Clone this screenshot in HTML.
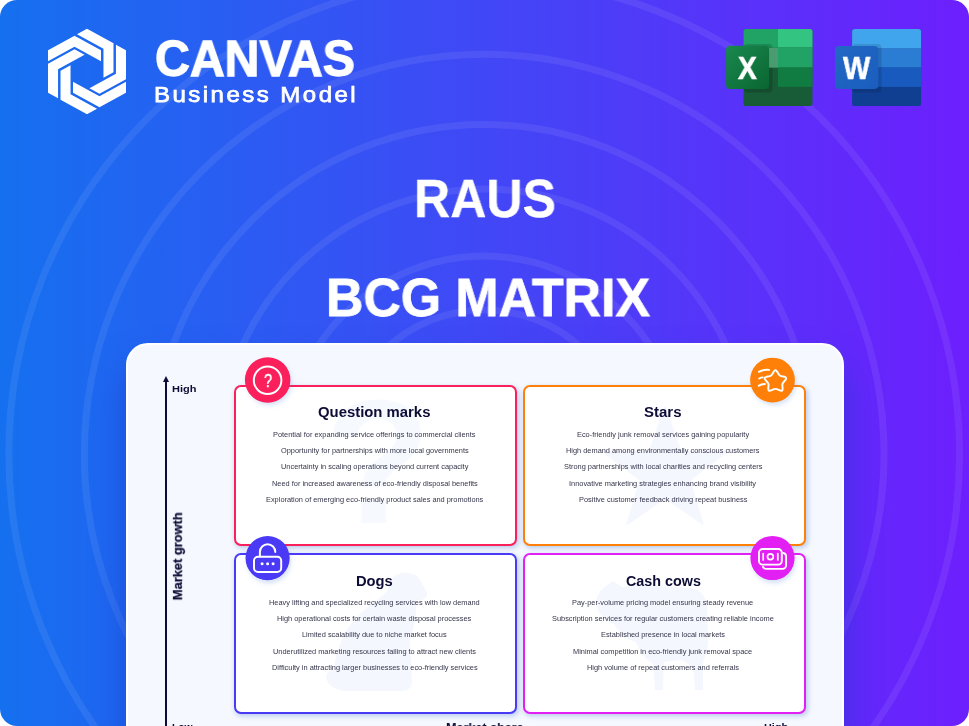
<!DOCTYPE html>
<html lang="en">
<head>
<meta charset="utf-8">
<title>RAUS BCG Matrix</title>
<style>
html,body{margin:0;padding:0;background:#fff;}
body{width:969px;height:726px;overflow:hidden;position:relative;font-family:"Liberation Sans", sans-serif;}
#stage{position:absolute;left:0;top:0;width:969px;height:726px;border-radius:17px;overflow:hidden;
  background:linear-gradient(90deg,#1570ef 0%,#6d1ffd 100%);}
#deco,#icons{position:absolute;left:0;top:0;width:969px;height:726px;}
#card{position:absolute;left:126px;top:342.8px;width:717.8px;height:420px;box-sizing:border-box;border:2.3px solid #fff;border-radius:22px;background:#f5f8fe;
  box-shadow:0 24px 34px rgba(22,58,195,0.50);}
.box{position:absolute;box-sizing:border-box;border:2px solid;border-radius:7px;background:#fff;
  box-shadow:1.5px 2px 5px rgba(80,125,205,0.36);}
.dot{position:absolute;border-radius:50%;box-shadow:1.5px 3px 5px rgba(80,130,215,0.26);}
.t{position:absolute;margin:0;padding:0;white-space:nowrap;line-height:1;font-family:"Liberation Sans", sans-serif;will-change:transform;}
.wm{pointer-events:none;}
#axis{position:absolute;left:164.9px;top:380px;width:2.1px;height:360px;background:#0c0c36;}
#arrow{position:absolute;left:162.8px;top:375.7px;width:0;height:0;border-left:3.2px solid transparent;border-right:3.2px solid transparent;border-bottom:6.2px solid #0c0c36;}
</style>
</head>
<body>
<div id="stage">
<svg id="deco" width="969" height="726" viewBox="0 0 969 726">
<defs>
<linearGradient id="gx" x1="0" y1="0" x2="1" y2="1"><stop offset="0" stop-color="#18884f"/><stop offset="1" stop-color="#0b6631"/></linearGradient>
<linearGradient id="gw" x1="0" y1="0" x2="1" y2="1"><stop offset="0" stop-color="#2368c4"/><stop offset="1" stop-color="#1a5dbe"/></linearGradient>
</defs>
<g fill="none" stroke="#fff" stroke-opacity="0.075" stroke-width="7"><circle cx="484.2" cy="454" r="144"/><circle cx="484.2" cy="454" r="198"/><circle cx="484.2" cy="454" r="265"/><circle cx="484.2" cy="454" r="329.6"/><circle cx="484.2" cy="454" r="399.8"/><circle cx="484.2" cy="454" r="475.4"/></g>
<g fill="#fff"><polygon points="48.02,50.15 74.53,35.63 101.03,50.15 101.03,61.15 74.53,46.63 48.02,61.15"/><polygon points="87.00,28.80 113.50,43.32 113.50,72.35 103.46,77.85 103.46,48.82 76.96,34.30"/><polygon points="125.98,50.15 125.98,79.19 99.47,93.70 89.43,88.20 115.94,73.69 115.94,44.65"/><polygon points="125.98,92.85 99.47,107.37 72.97,92.85 72.97,81.85 99.47,96.37 125.98,81.85"/><polygon points="87.00,114.20 60.50,99.68 60.50,70.65 70.54,65.15 70.54,94.18 97.04,108.70"/><polygon points="48.02,92.85 48.02,63.81 74.53,49.30 84.57,54.80 58.06,69.31 58.06,98.35"/></g>
<g shape-rendering="geometricPrecision">
<clipPath id="cx"><rect x="743.5" y="29" width="69" height="77" rx="2.6"/></clipPath>
<g clip-path="url(#cx)">
<rect x="743" y="28" width="70" height="79" fill="#185c37"/>
<rect x="743" y="28" width="35" height="20" fill="#21a366"/>
<rect x="778" y="28" width="35" height="19.6" fill="#33c481"/>
<rect x="743" y="47.6" width="35" height="20" fill="#107c41"/>
<rect x="778" y="47.6" width="35" height="20" fill="#21a366"/>
<rect x="778" y="67.6" width="35" height="19.3" fill="#107c41"/>
<rect x="743.5" y="44" width="29" height="48.5" rx="4" fill="#000" fill-opacity="0.16"/>
<rect x="769" y="47.8" width="9" height="19.8" fill="#4a9a72"/>
</g>
<rect x="726.1" y="45.7" width="43" height="43.2" rx="4" fill="url(#gx)"/>
</g><g>
<clipPath id="cw"><rect x="852.1" y="29" width="69" height="77" rx="2.6"/></clipPath>
<g clip-path="url(#cw)">
<rect x="852" y="28" width="70" height="79" fill="#103f91"/>
<rect x="852" y="28" width="70" height="20.6" fill="#41a5ee"/>
<rect x="852" y="48.6" width="70" height="19" fill="#2b7cd3"/>
<rect x="852" y="67.6" width="70" height="19.3" fill="#185abd"/>
<rect x="852.1" y="44" width="29.5" height="48.5" rx="4" fill="#000" fill-opacity="0.12"/>
</g>
<rect x="835.1" y="45.9" width="43.2" height="43" rx="4" fill="url(#gw)"/>
</g>
</svg>
<div id="card"></div>
<div id="axis"></div><div id="arrow"></div>
<div class="box" id="box-q" style="left:234px;top:385px;width:283px;height:161px;border-color:#fb1f5b;"></div>
<div class="box" id="box-s" style="left:523px;top:385px;width:283px;height:161px;border-color:#ff8008;"></div>
<div class="box" id="box-d" style="left:234px;top:553px;width:283px;height:161px;border-color:#4a3af6;"></div>
<div class="box" id="box-c" style="left:523px;top:553px;width:283px;height:161px;border-color:#e320f4;"></div>
<svg id="wm" width="969" height="726" viewBox="0 0 969 726" style="position:absolute;left:0;top:0"><g fill="#f4f7fe"><path d="M664.01 407.83 Q665.00 405.00 665.99 407.83 L680.54 449.21 Q680.87 450.16 681.87 450.18 L725.72 451.22 Q728.72 451.30 726.34 453.12 L691.47 479.74 Q690.68 480.34 690.96 481.30 L703.52 523.33 Q704.38 526.20 701.91 524.50 L665.82 499.57 Q665.00 499.00 664.18 499.57 L628.09 524.50 Q625.62 526.20 626.48 523.33 L639.04 481.30 Q639.32 480.34 638.53 479.74 L603.66 453.12 Q601.28 451.30 604.28 451.22 L648.13 450.18 Q649.13 450.16 649.46 449.21 Z"/><path d="M396 575 C404 571 416 572 420 580 L427 592 C428 598 423 601 416 600 C417 614 414 628 410 640 L412 682 C412 688 408 691 400 691 L348 691 C338 691 332 688 328 682 C324 676 327 670 334 670 C336 650 344 630 358 616 C370 604 382 598 388 590 C388 583 391 578 396 575 Z"/><path d="M606 586 L613 581 L622 587 C640 586 668 586 690 588 C700 589 706 596 707 606 L708 640 C708 650 705 656 703 664 L703 690 L695 690 L693 668 C688 664 684 660 680 660 L664 662 L663 690 L655 690 L653 664 C646 660 640 652 636 642 C628 640 620 634 614 624 C606 622 598 614 596 604 C596 596 600 590 606 586 Z"/></g></svg>
<div class="t wm" style="font-size:176px;font-weight:700;color:#f6f9fe;left:323.63px;top:374.00px;transform-origin:0 0;transform:scaleX(0.9927);">?</div>
<div class="dot" style="left:245.5px;top:357.8px;width:44.3px;height:44.3px;background:#fb1f5b;"></div>
<div class="dot" style="left:750.7px;top:358.2px;width:43.6px;height:43.6px;background:#ff8008;"></div>
<div class="dot" style="left:246.1px;top:536.6px;width:43.0px;height:43.0px;background:#4a3af6;"></div>
<div class="dot" style="left:751.0px;top:536.5px;width:43.0px;height:43.0px;background:#e320f4;"></div>
<svg id="icons" width="969" height="726" viewBox="0 0 969 726"><circle cx="267.65" cy="379.95" r="22.75" fill="#fb1f5b"/><circle cx="772.5" cy="380.05" r="22.4" fill="#ff8008"/><circle cx="267.6" cy="558.1" r="22.1" fill="#4a3af6"/><circle cx="772.5" cy="558.0" r="22.1" fill="#e320f4"/><circle cx="267.6" cy="380.2" r="13.8" fill="none" stroke="#fff" stroke-linecap="round" stroke-linejoin="round" stroke-width="1.95"/><path d="M773.70 371.72 Q775.45 368.80 777.20 371.72 L778.85 374.47 Q779.62 375.76 781.09 376.09 L784.22 376.81 Q787.53 377.58 785.30 380.14 L783.19 382.56 Q782.20 383.69 782.33 385.19 L782.62 388.39 Q782.91 391.77 779.79 390.44 L776.83 389.19 Q775.45 388.60 774.07 389.19 L771.11 390.44 Q767.99 391.77 768.28 388.39 L768.57 385.19 Q768.70 383.69 767.71 382.56 L765.60 380.14 Q763.37 377.58 766.68 376.81 L769.81 376.09 Q771.28 375.76 772.05 374.47 Z" fill="none" stroke="#fff" stroke-linecap="round" stroke-linejoin="round" stroke-width="1.95"/><path d="M758.9 371.8 Q763.8 369.2 769.0 369.9 M759.3 378.5 Q761.0 377.5 762.7 377.4 M758.9 385.7 Q761.8 384.1 764.9 384.0" fill="none" stroke="#fff" stroke-linecap="round" stroke-linejoin="round" stroke-width="1.95"/><rect x="254.0" y="556.7" width="27.2" height="15.2" rx="4" fill="none" stroke="#fff" stroke-linecap="round" stroke-linejoin="round" stroke-width="1.95"/><path d="M259.9 556.4 V552.0 A7.7 7.7 0 0 1 275.3 552.0" fill="none" stroke="#fff" stroke-linecap="round" stroke-linejoin="round" stroke-width="1.95"/><circle cx="262.1" cy="563.7" r="1.5" fill="#fff"/><circle cx="267.6" cy="563.7" r="1.5" fill="#fff"/><circle cx="273.1" cy="563.7" r="1.5" fill="#fff"/><rect x="759.0" y="549.0" width="22.8" height="15.6" rx="3.6" fill="none" stroke="#fff" stroke-linecap="round" stroke-linejoin="round" stroke-width="1.9"/><path d="M783.2 553.0 A3.6 3.6 0 0 1 786.1 556.6 V565.3 A3.6 3.6 0 0 1 782.5 568.9 H766.3 A3.6 3.6 0 0 1 763.0 566.8" fill="none" stroke="#fff" stroke-linecap="round" stroke-linejoin="round" stroke-width="1.9"/><circle cx="770.4" cy="556.8" r="2.9" fill="none" stroke="#fff" stroke-linecap="round" stroke-linejoin="round" stroke-width="1.7"/><path d="M763.2 553.6 V560.0 M777.8 553.6 V560.0" fill="none" stroke="#fff" stroke-linecap="round" stroke-linejoin="round" stroke-width="1.7"/></svg>
<div class="t" style="font-size:49.7px;font-weight:700;-webkit-text-stroke:1.3px currentColor;color:#fff;left:154.87px;top:35.00px;transform-origin:0 0;transform:scaleX(0.9695);">CANVAS</div>
<div class="t" style="font-size:22.4px;font-weight:400;letter-spacing:2.3px;-webkit-text-stroke:0.75px currentColor;color:#fff;left:154.29px;top:84.00px;transform-origin:0 0;transform:scaleX(1.0730);">Business Model</div>
<h1 class="t" style="font-size:52.8px;font-weight:700;-webkit-text-stroke:0.3px currentColor;color:#fff;left:413.50px;top:173.00px;transform-origin:0 0;transform:scaleX(0.9484);">RAUS</h1>
<h1 class="t" style="font-size:53.6px;font-weight:700;-webkit-text-stroke:0.8px currentColor;color:#fff;left:325.88px;top:271.00px;transform-origin:0 0;transform:scaleX(0.9657);">BCG MATRIX</h1>
<div class="t" style="font-size:9.9px;font-weight:700;color:#0c0c36;left:172.10px;top:384.00px;transform-origin:0 0;transform:scaleX(1.1133);">High</div>
<div class="t" style="font-size:9.9px;font-weight:700;color:#0c0c36;left:171.95px;top:722.00px;transform-origin:0 0;transform:scaleX(1.0405);">Low</div>
<div class="t" style="font-size:12.9px;font-weight:700;color:#0c0c36;left:445.75px;top:722.00px;transform-origin:0 0;transform:scaleX(0.9764);">Market share</div>
<div class="t" style="font-size:9.9px;font-weight:700;color:#0c0c36;left:764.41px;top:722.00px;transform-origin:0 0;transform:scaleX(1.0988);">High</div>
<div class="t" style="font-size:12.9px;font-weight:700;-webkit-text-stroke:0.25px currentColor;color:#0c0c36;left:0;top:0;transform-origin:0 0;transform:translate(171.88px,600.15px) rotate(-90deg) scaleX(0.9962);">Market growth</div>
<h3 class="t" style="font-size:14.1px;font-weight:700;color:#0c0c36;left:318.44px;top:405.00px;transform-origin:0 0;transform:scaleX(1.0553);">Question marks</h3>
<p class="t" style="font-size:7.4px;font-weight:400;color:#34344a;left:273.32px;top:431.00px;">Potential for expanding service offerings to commercial clients</p>
<p class="t" style="font-size:7.4px;font-weight:400;color:#34344a;left:280.76px;top:447.00px;">Opportunity for partnerships with more local governments</p>
<p class="t" style="font-size:7.4px;font-weight:400;color:#34344a;left:280.76px;top:463.00px;">Uncertainty in scaling operations beyond current capacity</p>
<p class="t" style="font-size:7.4px;font-weight:400;color:#34344a;left:271.64px;top:480.00px;">Need for increased awareness of eco-friendly disposal benefits</p>
<p class="t" style="font-size:7.4px;font-weight:400;color:#34344a;left:265.89px;top:496.00px;">Exploration of emerging eco-friendly product sales and promotions</p>
<h3 class="t" style="font-size:14.1px;font-weight:700;color:#0c0c36;left:643.80px;top:405.00px;transform-origin:0 0;transform:scaleX(1.0628);">Stars</h3>
<p class="t" style="font-size:7.4px;font-weight:400;color:#34344a;left:576.62px;top:431.00px;">Eco-friendly junk removal services gaining popularity</p>
<p class="t" style="font-size:7.4px;font-weight:400;color:#34344a;left:566.06px;top:447.00px;">High demand among environmentally conscious customers</p>
<p class="t" style="font-size:7.4px;font-weight:400;color:#34344a;left:563.75px;top:463.00px;">Strong partnerships with local charities and recycling centers</p>
<p class="t" style="font-size:7.4px;font-weight:400;color:#34344a;left:569.25px;top:480.00px;">Innovative marketing strategies enhancing brand visibility</p>
<p class="t" style="font-size:7.4px;font-weight:400;color:#34344a;left:578.62px;top:496.00px;">Positive customer feedback driving repeat business</p>
<h3 class="t" style="font-size:14.1px;font-weight:700;color:#0c0c36;left:355.96px;top:574.00px;transform-origin:0 0;transform:scaleX(1.0439);">Dogs</h3>
<p class="t" style="font-size:7.4px;font-weight:400;color:#34344a;left:269.26px;top:599.00px;">Heavy lifting and specialized recycling services with low demand</p>
<p class="t" style="font-size:7.4px;font-weight:400;color:#34344a;left:277.39px;top:615.00px;">High operational costs for certain waste disposal processes</p>
<p class="t" style="font-size:7.4px;font-weight:400;color:#34344a;left:302.20px;top:631.00px;">Limited scalability due to niche market focus</p>
<p class="t" style="font-size:7.4px;font-weight:400;color:#34344a;left:273.07px;top:648.00px;">Underutilized marketing resources failing to attract new clients</p>
<p class="t" style="font-size:7.4px;font-weight:400;color:#34344a;left:271.70px;top:664.00px;">Difficulty in attracting larger businesses to eco-friendly services</p>
<h3 class="t" style="font-size:14.1px;font-weight:700;color:#0c0c36;left:625.56px;top:574.00px;transform-origin:0 0;transform:scaleX(1.0169);">Cash cows</h3>
<p class="t" style="font-size:7.4px;font-weight:400;color:#34344a;left:572.25px;top:599.00px;">Pay-per-volume pricing model ensuring steady revenue</p>
<p class="t" style="font-size:7.4px;font-weight:400;color:#34344a;left:552.06px;top:615.00px;">Subscription services for regular customers creating reliable income</p>
<p class="t" style="font-size:7.4px;font-weight:400;color:#34344a;left:600.81px;top:631.00px;">Established presence in local markets</p>
<p class="t" style="font-size:7.4px;font-weight:400;color:#34344a;left:573.31px;top:648.00px;">Minimal competition in eco-friendly junk removal space</p>
<p class="t" style="font-size:7.4px;font-weight:400;color:#34344a;left:586.81px;top:664.00px;">High volume of repeat customers and referrals</p>
<div class="t" style="font-size:31.4px;font-weight:700;-webkit-text-stroke:0.7px currentColor;color:#fff;left:738.33px;top:53.00px;transform-origin:0 0;transform:scaleX(0.8925);">X</div>
<div class="t" style="font-size:31.4px;font-weight:700;-webkit-text-stroke:0.5px currentColor;color:#fff;left:842.73px;top:53.00px;transform-origin:0 0;transform:scaleX(0.9195);">W</div>
<div class="t" style="font-size:19.0px;font-weight:400;-webkit-text-stroke:0.5px currentColor;color:#fff;left:263.52px;top:371.00px;transform-origin:0 0;transform:scaleX(0.7688);">?</div>
</div>
</body>
</html>
